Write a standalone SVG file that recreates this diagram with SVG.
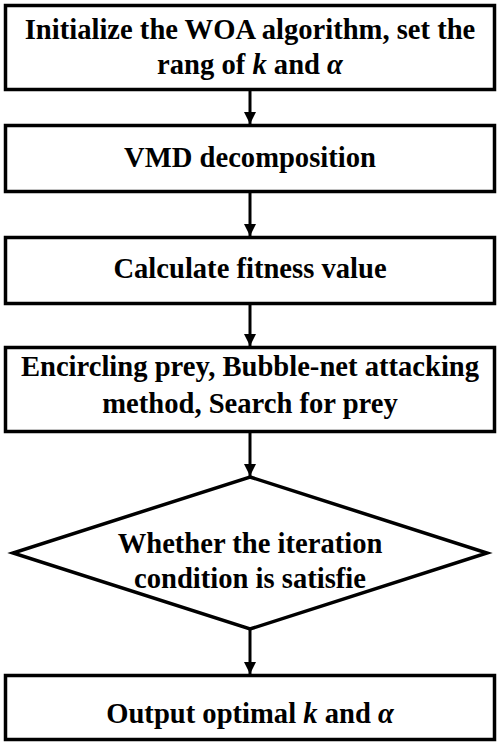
<svg xmlns="http://www.w3.org/2000/svg" width="500" height="746" viewBox="0 0 500 746">
<style>
.box{fill:#fff;stroke:#000;stroke-width:3.5}
.t{font-family:"Liberation Serif","Times New Roman",serif;font-weight:bold;font-size:28.6px;fill:#000;text-anchor:middle}
.it{font-style:italic}
.c{stroke:#000;stroke-width:3;fill:none}
</style>
<defs>
<marker id="ah" markerUnits="userSpaceOnUse" markerWidth="14" markerHeight="14" refX="12" refY="6" orient="auto">
<path d="M0,0 L12,6 L0,12 Z" fill="#000"/>
</marker>
</defs>
<rect width="500" height="746" fill="#fff"/>
<g id="n1">
<rect class="box" x="5.5" y="5.5" width="489" height="84"/>
<text class="t" x="250" y="39">Initialize the WOA algorithm, set the</text>
<text class="t" x="250" y="74">rang of <tspan class="it">k</tspan> and <tspan class="it">α</tspan></text>
</g>
<g id="n2">
<rect class="box" x="5.5" y="125.5" width="489" height="66"/>
<text class="t" x="250" y="167">VMD decomposition</text>
</g>
<g id="n3">
<rect class="box" x="5.5" y="237.5" width="489" height="66"/>
<text class="t" x="250" y="278">Calculate fitness value</text>
</g>
<g id="n4">
<rect class="box" x="5.5" y="347.5" width="489" height="84"/>
<text class="t" x="250" y="376">Encircling prey, Bubble-net attacking</text>
<text class="t" x="250" y="413">method, Search for prey</text>
</g>
<g id="n5">
<polygon class="box" points="250,477 487,553 250,629 13,553"/>
<text class="t" x="250" y="553">Whether the iteration</text>
<text class="t" x="250" y="588">condition is satisfie</text>
</g>
<g id="n6">
<rect class="box" x="5.5" y="675.5" width="489" height="64"/>
<text class="t" x="250" y="723">Output optimal <tspan class="it">k</tspan> and <tspan class="it">α</tspan></text>
</g>
<g id="connectors">
<line class="c" x1="250" y1="90" x2="250" y2="124" marker-end="url(#ah)"/>
<line class="c" x1="250" y1="192" x2="250" y2="236" marker-end="url(#ah)"/>
<line class="c" x1="250" y1="304" x2="250" y2="346" marker-end="url(#ah)"/>
<line class="c" x1="250" y1="432" x2="250" y2="476" marker-end="url(#ah)"/>
<line class="c" x1="250" y1="630" x2="250" y2="674" marker-end="url(#ah)"/>
</g>
</svg>
